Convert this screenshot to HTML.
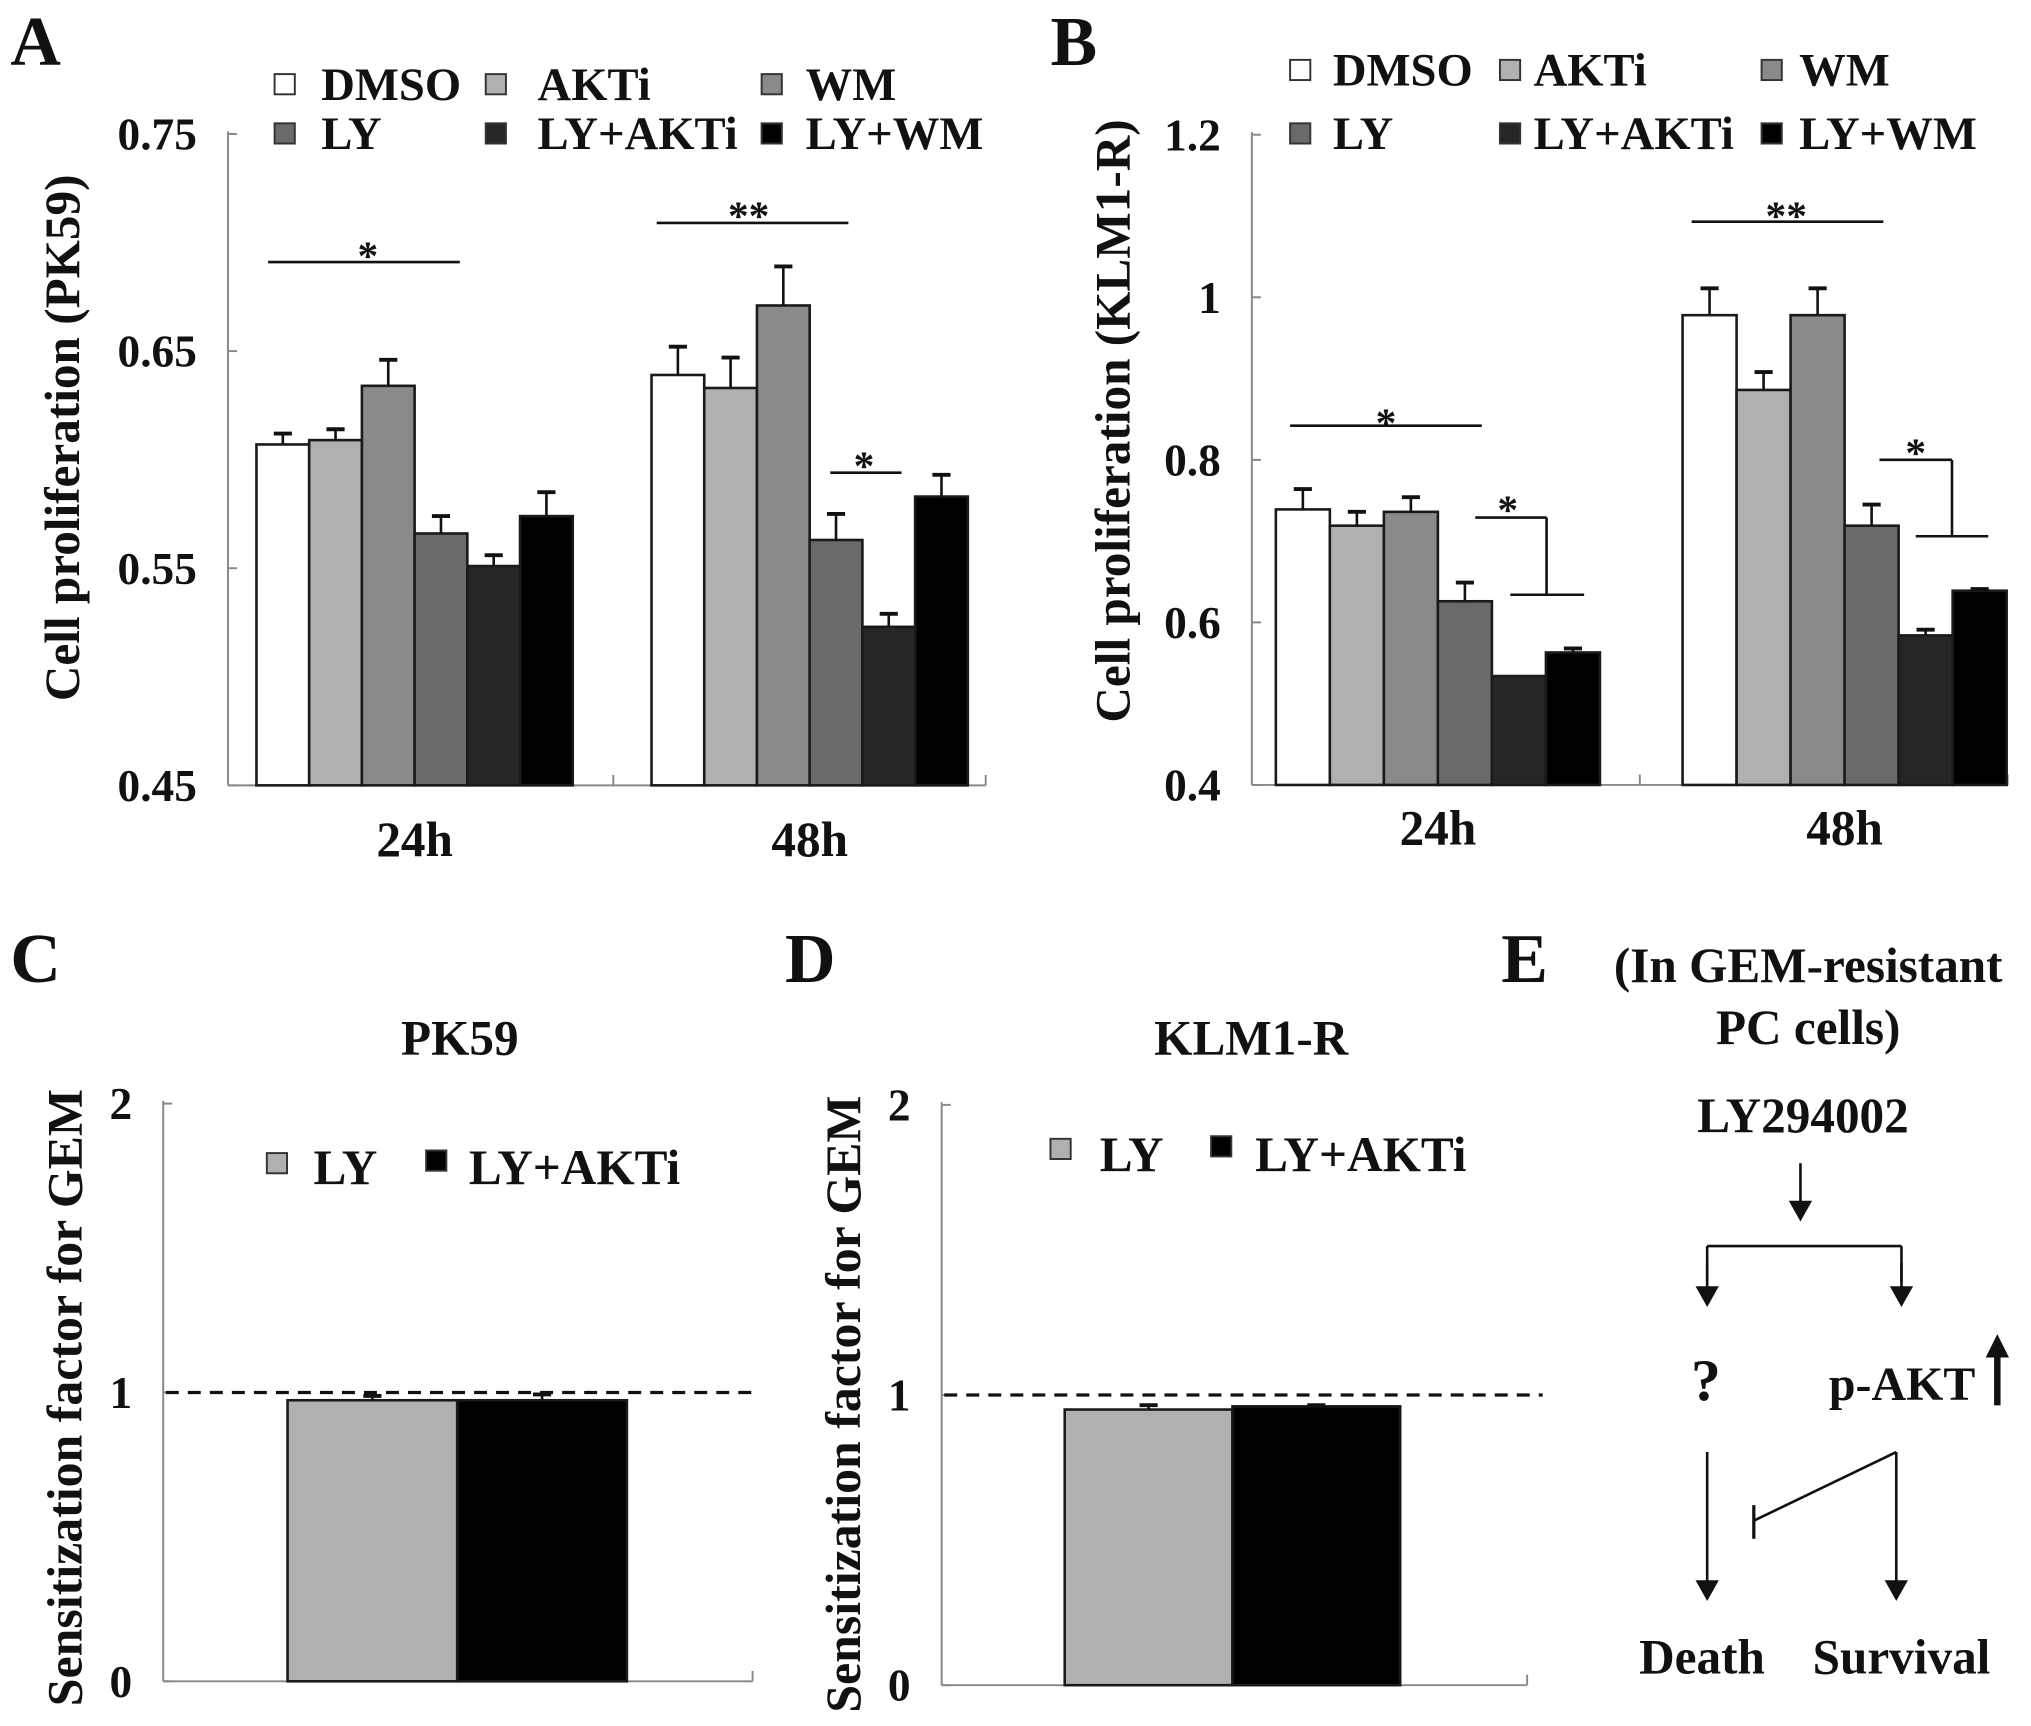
<!DOCTYPE html>
<html><head><meta charset="utf-8"><style>
html,body{margin:0;padding:0;background:#fff;}
svg{display:block;}
text{font-family:"Liberation Serif",serif;font-weight:bold;fill:#111;}
</style></head><body>
<svg id="fig" xmlns="http://www.w3.org/2000/svg" width="2031" height="1726" viewBox="0 0 1568 1332.5">
<rect x="0" y="0" width="1568" height="1332.5" fill="#fff"/>
<g id="layer"></g>
</svg>
<script>
// ---- data ----
const seriesNames = ["DMSO","AKTi","WM","LY","LY+AKTi","LY+WM"];
const timeCats = ["24h","48h"];
const aValues24 = [0.607,0.609,0.634,0.566,0.551,0.574];
const aErr24 = [0.005,0.005,0.012,0.008,0.005,0.011];
const aValues48 = [0.639,0.633,0.671,0.563,0.523,0.583];
const aErr48 = [0.013,0.014,0.018,0.012,0.006,0.010];
const aTicks = [0.45,0.55,0.65,0.75];
const aTickLabels = ["0.45","0.55","0.65","0.75"];
const bValues24 = [0.739,0.719,0.736,0.626,0.534,0.563];
const bErr24 = [0.025,0.017,0.018,0.023,0.0,0.005];
const bValues48 = [0.978,0.886,0.978,0.719,0.584,0.639];
const bErr48 = [0.033,0.022,0.033,0.026,0.007,0.002];
const bTicks = [0.4,0.6,0.8,1.0,1.2];
const bTickLabels = ["0.4","0.6","0.8","1","1.2"];
const sfNames = ["LY","LY+AKTi"];
const cValues = [0.973,0.973];
const cErr = [0.015,0.02];
const dValues = [0.95,0.961];
const dErr = [0.015,0.004];
const sfTicks = [0,1,2];
const sfTickLabels = ["0","1","2"];

const colors = ["#ffffff","#b0b0b0","#8a8a8a","#6a6a6a","#262626","#000000"];
const NS = "http://www.w3.org/2000/svg";
const layer = document.getElementById("layer");
function mk(tag, attrs, parent){
  const e = document.createElementNS(NS, tag);
  for (const k in attrs) e.setAttribute(k, attrs[k]);
  (parent||layer).appendChild(e);
  return e;
}
function txt(x,y,s,size,anchor,extra){
  const t = mk("text",Object.assign({x:x,y:y,"font-size":size,"text-anchor":anchor||"start"},extra||{}));
  t.textContent = s;
  return t;
}
function line(x1,y1,x2,y2,w,col,dash){
  const a={x1:x1,y1:y1,x2:x2,y2:y2,stroke:col||"#111","stroke-width":w||2};
  if(dash) a["stroke-dasharray"]=dash;
  return mk("line",a);
}

// ---- panel bar chart ----
function barPanel(cfg){
  const ys = v => cfg.y0 + (v - cfg.vmin)/(cfg.vmax - cfg.vmin)*(cfg.y1 - cfg.y0);
  let e;
  e = line(cfg.ax, ys(cfg.vmax)-2, cfg.ax, ys(cfg.vmin), 1.5, "#888");
  
  
  e = line(cfg.ax, ys(cfg.vmin), cfg.axEnd, ys(cfg.vmin), 1.5, "#888");
  
  
  cfg.ticks.forEach((tv,i)=>{
    line(cfg.ax, ys(tv), cfg.ax+7, ys(tv), 1.5, "#888");
    e = txt(cfg.ax-24, ys(tv)+12, cfg.tickLabels[i], 35, "end");
    
    
  });
  if (cfg.midTick) line(cfg.midTick, ys(cfg.vmin), cfg.midTick, ys(cfg.vmin)-8, 1.5, "#888");
  line(cfg.axEnd, ys(cfg.vmin), cfg.axEnd, ys(cfg.vmin)-8, 1.5, "#888");
  cfg.groups.forEach((g,gi)=>{
    g.vals.forEach((v,i)=>{
      const x = g.start + i*cfg.bw;
      const top = ys(v), bot = ys(cfg.vmin);
      const r = mk("rect",{x:x,y:top,width:cfg.bw,height:bot-top,fill:cfg.colors[i],stroke:"#1a1a1a","stroke-width":2});
      
      
      const er = g.err[i];
      if (er > 0) {
        const cx = x + cfg.bw/2;
        line(cx, top, cx, ys(v+er), 2);
        line(cx-7, ys(v+er), cx+7, ys(v+er), 3);
      }
    });
    if (g.name) {
      e = txt(g.start + cfg.bw*g.vals.length/2, cfg.catY, g.name, 38, "middle");
      
      
    }
  });
  return ys;
}

// Panel A
const ysA = barPanel({id:"a",ax:176,axEnd:761,midTick:473.5,y0:606.3,y1:103.4,vmin:0.45,vmax:0.75,
  ticks:aTicks,tickLabels:aTickLabels,bw:40.7,colors:colors,names:seriesNames,catY:661,
  groups:[{name:timeCats[0],start:198,vals:aValues24,err:aErr24},{name:timeCats[1],start:503,vals:aValues48,err:aErr48}]});
// Panel B
const ysB = barPanel({id:"b",ax:966.5,axEnd:1550,midTick:1266,y0:606,y1:104,vmin:0.4,vmax:1.2,
  ticks:bTicks,tickLabels:bTickLabels,bw:41.7,colors:colors,names:seriesNames,catY:652,
  groups:[{name:timeCats[0],start:985,vals:bValues24,err:bErr24},{name:timeCats[1],start:1299,vals:bValues48,err:bErr48}]});
// Panel C
const ysC = barPanel({id:"c",ax:126,axEnd:581,y0:1298,y1:852,vmin:0,vmax:2,
  ticks:sfTicks,tickLabels:sfTickLabels,bw:131,colors:["#b0b0b0","#000"],names:sfNames,catY:0,
  groups:[{name:"",start:222,vals:cValues,err:cErr}]});
// Panel D
const ysD = barPanel({id:"d",ax:727,axEnd:1179,y0:1301,y1:853,vmin:0,vmax:2,
  ticks:sfTicks,tickLabels:sfTickLabels,bw:129.5,colors:["#b0b0b0","#000"],names:sfNames,catY:0,
  groups:[{name:"",start:822,vals:dValues,err:dErr}]});

let el;
// dashed reference lines
el = line(128, ysC(1), 587, ysC(1), 2.5, "#111", "10 7");


el = line(729, ysD(1), 1191, ysD(1), 2.5, "#111", "10 7");



// significance markers
function sig(x1,x2,y,label,lx,ly){
  line(x1,y,x2,y,2);
  const t = txt(lx,ly,label,32,"middle",{"font-weight":"normal"});
  
  
}
sig(207,355,ysA(0.691),"*",284,208);
sig(507,655,ysA(0.709),"**",578,177);
sig(641,696,ysA(0.594),"*",667,370);
sig(996,1144,ysB(0.842),"*",1070,337);
sig(1306,1454,ysB(1.093),"**",1379,177);
// brackets B
line(1139,ysB(0.729),1194,ysB(0.729),2); line(1194,ysB(0.729),1194,ysB(0.634),2); line(1166,ysB(0.634),1223,ysB(0.634),2);
el = txt(1164,404,"*",32,"middle",{"font-weight":"normal"});


line(1451,ysB(0.8),1507,ysB(0.8),2); line(1507,ysB(0.8),1507,ysB(0.706),2); line(1479,ysB(0.706),1535,ysB(0.706),2);
el = txt(1479,360,"*",32,"middle",{"font-weight":"normal"});



// legends
function legendItem(sx,sy,col,label,tx,ty,prefix,size){
  const r = mk("rect",{x:sx,y:sy-7.8,width:15.6,height:15.6,fill:col,stroke:"#333","stroke-width":1.5});
  
  
  const t = txt(tx,ty,label,size||36,"start");
  
  
}
const aLegX = [220,383,596], aTxtX=[248,415,622];
seriesNames.forEach((n,i)=>{
  const row = Math.floor(i/3), col=i%3;
  legendItem(aLegX[col]-8, row?103:65, colors[i], n, aTxtX[col], row?115:77, "a");
});
const bLegX = [1004,1166,1368], bTxtX=[1029,1184,1389];
seriesNames.forEach((n,i)=>{
  const row = Math.floor(i/3), col=i%3;
  legendItem(bLegX[col]-8, row?103:54, colors[i], n, bTxtX[col], row?115:66, "b");
});
legendItem(206,898,"#b0b0b0",sfNames[0],242,914,"c",38);
legendItem(329,896,"#000",sfNames[1],362,914,"c",38);
legendItem(811,887,"#b0b0b0",sfNames[0],849,904,"d",38);
legendItem(935,885,"#000",sfNames[1],969,904,"d",38);

// panel letters
[["A",8,50],["B",811,50],["C",8,758],["D",606,758],["E",1159,758]].forEach(p=>{
  const t = txt(p[1],p[2],p[0],54,"start");
  
  
});
// axis titles (rotated)
function ytitle(cx,cy,s,size,name){
  const t = txt(cx,cy,s,size,"middle",{transform:"rotate(-90 "+cx+" "+cy+")"});
  
  
}
ytitle(61,338,"Cell proliferation (PK59)",38,"a-y-axis-title");
ytitle(872,325,"Cell proliferation (KLM1-R)",38,"b-y-axis-title");
ytitle(63,1079,"Sensitization factor for GEM",38.5,"c-y-axis-title");
ytitle(664,1084,"Sensitization factor for GEM",38.5,"d-y-axis-title");
el = txt(355,814,"PK59",38,"middle");


el = txt(966,814,"KLM1-R",38,"middle");



// Panel E diagram
const eTexts = [["(In GEM-resistant",1396,758],["PC cells)",1396,806],["LY294002",1392,874]];
eTexts.forEach(a=>{
  const t = txt(a[1],a[2],a[0],38,"middle");
  
  
});
function arrowDown(x,y1,y2){
  line(x,y1,x,y2-12,2);
  mk("polygon",{points:(x-9)+","+(y2-16)+" "+(x+9)+","+(y2-16)+" "+x+","+y2,fill:"#111"});
}
arrowDown(1390,898,943);
line(1318,962,1468,962,2);
line(1318,962,1318,990,2); line(1468,962,1468,990,2);
arrowDown(1318,975,1009); arrowDown(1468,975,1009);
el = txt(1317,1081,"?",46,"middle",{"font-weight":"normal"});


el = txt(1525,1081,"p-AKT",37,"end");


line(1542,1085,1542,1046,5);
mk("polygon",{points:"1533,1048 1551,1048 1542,1030",fill:"#111"});
arrowDown(1318,1121,1236);
arrowDown(1464,1121,1236);
line(1464,1121,1354,1174,2);
line(1354,1162,1354,1188,2.5);
el = txt(1314,1292,"Death",38,"middle");


el = txt(1468,1292,"Survival",38,"middle");


</script>
</body></html>
